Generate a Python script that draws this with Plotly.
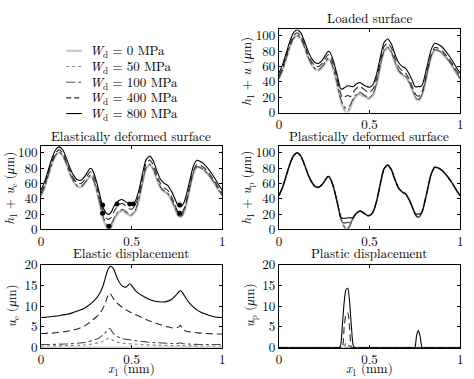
import plotly.graph_objects as go

# ---------------- data ----------------
x1 = [0, .02, .04, .06, .08, .10, .12, .14, .16, .18, .20, .22, .24, .26, .27, .28,
      .30, .32, .33, .34, .35, .36, .37, .38, .39, .40, .41, .42, .44, .45, .47,
      .49, .50, .52, .54, .56, .58, .60, .62, .64, .66, .68, .70, .72, .74, .75,
      .76, .77, .78, .79, .80, .82, .84, .86, .88, .90, .92, .94, .96, .98, 1.0]

h1 = [44, 55, 70, 85, 96, 100, 96, 85, 72, 62, 56, 55, 59, 66, 69, 68,
      56, 37, 26, 16, 9, 3.5, 0.5, 1, 4, 10, 15, 19, 23.5, 24, 21,
      18, 18, 23, 38, 60, 79, 84, 78, 65, 54, 49, 46, 38, 27, 21,
      17, 16, 18, 23, 31, 52, 72, 81, 80, 77, 72, 66, 59, 51, 44]

loads = [0, 50, 100, 400, 800]
load_labels = ["<i>W</i><sub>d</sub> = 0 MPa", "<i>W</i><sub>d</sub> = 50 MPa",
               "<i>W</i><sub>d</sub> = 100 MPa", "<i>W</i><sub>d</sub> = 400 MPa",
               "<i>W</i><sub>d</sub> = 800 MPa"]

ue_0 = [0] * 61
ue_50 = [.4, .4, .4, .42, .42, .45, .45, .47, .5, .52, .55, .6, .65, .75, .8, .85,
         1.0, 1.2, 1.35, 1.5, 1.7, 1.95, 2.2, 2.3, 2.0, 1.7, 1.5, 1.35, 1.15, 1.1, 1.0,
         .95, .9, .85, .8, .75, .7, .65, .62, .6, .57, .55, .52, .5, .5, .5,
         .52, .6, .5, .47, .45, .45, .42, .42, .4, .4, .4, .4, .4, .4, .4]
ue_100 = [.75, .75, .75, .8, .8, .85, .85, .9, .95, 1.0, 1.05, 1.15, 1.25, 1.45, 1.55, 1.65,
          1.95, 2.35, 2.65, 3.0, 3.4, 3.9, 4.4, 4.6, 4.0, 3.4, 3.0, 2.7, 2.3, 2.2, 2.0,
          1.9, 1.8, 1.7, 1.6, 1.5, 1.4, 1.3, 1.25, 1.2, 1.15, 1.1, 1.05, 1.0, 1.0, 1.0,
          1.05, 1.2, 1.0, .95, .9, .85, .8, .8, .75, .75, .75, .75, .75, .75, .75]
ue_400 = [3.4, 3.4, 3.5, 3.5, 3.6, 3.7, 3.8, 3.9, 4.1, 4.3, 4.5, 4.8, 5.2, 5.8, 6.1, 6.5,
          7.2, 8.0, 8.6, 9.3, 10.2, 11.4, 12.6, 13.1, 12.5, 11.8, 11.2, 10.7, 10.0, 9.6, 9.1,
          8.6, 8.4, 8.0, 7.6, 7.2, 6.8, 6.4, 6.1, 5.8, 5.5, 5.2, 5.0, 4.8, 4.7, 4.8,
          5.0, 5.4, 4.5, 4.2, 4.0, 3.8, 3.7, 3.6, 3.5, 3.45, 3.4, 3.35, 3.3, 3.3, 3.3]
ue_800 = [7.25, 7.3, 7.4, 7.5, 7.6, 7.7, 7.9, 8.0, 8.2, 8.5, 8.8, 9.1, 9.5, 10.1, 10.4, 10.8,
          11.6, 12.8, 13.6, 14.6, 16.0, 17.6, 18.9, 19.5, 19.5, 19.0, 18.0, 16.8, 15.2, 14.8, 14.6,
          15.4, 15.0, 13.8, 13.0, 12.5, 12.0, 11.6, 11.3, 11.1, 11.0, 11.0, 11.2, 11.6, 12.4, 12.9,
          13.4, 13.7, 13.3, 12.6, 11.9, 10.7, 9.8, 9.1, 8.6, 8.2, 7.9, 7.6, 7.4, 7.3, 7.25]

up_0 = [0] * 61
up_50 = [0] * 61
up_100 = [0] * 21 + [0.3, 1.0, 0.8, 0.2] + [0] * 36
up_400 = [0] * 21 + [5.0, 8.0, 8.4, 4.5] + [0] * 36
up_800 = ([0] * 19 + [0.5, 5.5, 11, 14, 14.3, 11, 5, 0.5] + [0] * 19
          + [3, 4.1, 2.5] + [0] * 12)

ue_all = [ue_0, ue_50, ue_100, ue_400, ue_800]
up_all = [up_0, up_50, up_100, up_400, up_800]

# contact markers on the elastically deformed surface
mark_x = [0.34, 0.34, 0.375, 0.42, 0.49, 0.51, 0.765, 0.765]
mark_y = [32, 21, 4, 33, 33, 33, 32, 21]

# ---------------- styles ----------------
colors = ["#c8c8c8", "#8a8a8a", "#505050", "#282828", "#000000"]
dashes = ["solid", "dot", "dashdot", "7px,4px", "solid"]
widths = [2.2, 1.2, 1.1, 1.1, 1.1]
FONT = "Latin Modern Roman, Liberation Serif, serif"
FS = 13

fig = go.Figure()

W, H = 474, 379
def dx(a, b):
    return [a / W, b / W]
def dy(top, bot):
    return [1 - bot / H, 1 - top / H]

LX = dx(38.5, 222)
RX = dx(279.5, 463)
panels = {
    "1": (RX, dy(20.5, 108), [0, 108], [0, 20, 40, 60, 80, 100]),
    "2": (LX, dy(143, 231), [0, 109], [0, 20, 40, 60, 80, 100]),
    "3": (RX, dy(143, 231), [0, 109], [0, 20, 40, 60, 80, 100]),
    "4": (LX, dy(268, 355.5), [0, 20], [0, 5, 10, 15, 20]),
    "5": (RX, dy(268, 355.5), [0, 20], [0, 5, 10, 15, 20]),
}

for i in range(5):
    ue = ue_all[i]
    up = up_all[i]
    loaded = [h + a + b for h, a, b in zip(h1, ue, up)]
    elastic = [h + a for h, a in zip(h1, ue)]
    plastic = [h + b for h, b in zip(h1, up)]
    series = {"1": loaded, "2": elastic, "3": plastic, "4": ue, "5": up}
    for k, yv in series.items():
        fig.add_trace(go.Scatter(
            x=x1, y=yv, mode="lines",
            line=dict(color=colors[i], dash=dashes[i], width=widths[i], shape="spline", smoothing=0.6),
            name=load_labels[i], showlegend=False, hoverinfo="skip",
            xaxis="x" + ("" if k == "1" else k), yaxis="y" + ("" if k == "1" else k),
        ))

fig.add_trace(go.Scatter(x=mark_x, y=mark_y, mode="markers", hoverinfo="skip",
                         marker=dict(color="black", size=5), showlegend=False,
                         xaxis="x2", yaxis="y2"))

axcommon = dict(showline=True, linecolor="black", linewidth=1, mirror="ticks",
                ticks="inside", ticklen=3, tickcolor="black", showgrid=False,
                zeroline=False, tickfont=dict(family=FONT, size=FS, color="black"))
for k, (xd, yd, yr, yt) in panels.items():
    xn = "xaxis" + ("" if k == "1" else k)
    yn = "yaxis" + ("" if k == "1" else k)
    ax_id = "x" + ("" if k == "1" else k)
    ay_id = "y" + ("" if k == "1" else k)
    fig.layout[xn] = dict(domain=xd, range=[0, 1], anchor=ay_id, ticklabelstandoff=0,
                          tickvals=[0, 0.5, 1], ticktext=["0", "0.5", "1"], **axcommon)
    fig.layout[yn] = dict(domain=yd, range=yr, anchor=ax_id, tickvals=yt, **axcommon)

ann = []
def txt(x, y, s, angle=0, size=FS, anchor="center"):
    ann.append(dict(x=x / W, y=1 - y / H, xref="paper", yref="paper", text=s,
                    showarrow=False, textangle=angle,
                    font=dict(family=FONT, size=size, color="black"),
                    xanchor=anchor, yanchor="middle"))

txt(371, 8, "Loaded surface")
txt(130, 132, "Elastically deformed surface")
txt(371, 132, "Plastically deformed surface")
txt(130, 255, "Elastic displacement")
txt(371, 255, "Plastic displacement")
txt(130, 377, "<i>x</i><sub>1</sub> (mm)")
txt(371, 377, "<i>x</i><sub>1</sub> (mm)")
txt(247, 64, "<i>h</i><sub>1</sub> + <i>u</i> (<i>μ</i>m)", -90)
txt(7, 187, "<i>h</i><sub>1</sub> + <i>u</i><sub>e</sub> (<i>μ</i>m)", -90)
txt(247, 187, "<i>h</i><sub>1</sub> + <i>u</i><sub>p</sub> (<i>μ</i>m)", -90)
txt(9, 311, "<i>u</i><sub>e</sub> (<i>μ</i>m)", -90)
txt(250, 311, "<i>u</i><sub>p</sub> (<i>μ</i>m)", -90)

# hand-built legend (sample lines as layout shapes, labels as annotations)
leg_rows = [43, 59.5, 76, 92.5, 109]
shapes = []
for i, ry in enumerate(leg_rows):
    shapes.append(dict(type="line", xref="paper", yref="paper",
                       x0=64 / W, x1=80 / W, y0=1 - ry / H, y1=1 - ry / H,
                       line=dict(color=colors[i], width=widths[i],
                                 dash=dashes[i] if i != 3 else "5px,3px")))
    txt(86, ry, load_labels[i], anchor="left")

fig.update_layout(
    width=W, height=H, margin=dict(l=0, r=0, t=0, b=0),
    paper_bgcolor="white", plot_bgcolor="white",
    annotations=ann, shapes=shapes, showlegend=False, hovermode=False,
)

fig.write_html("out.html", config={"displayModeBar": False},
               post_script="document.body.style.margin='0px';document.body.style.overflow='hidden';")
